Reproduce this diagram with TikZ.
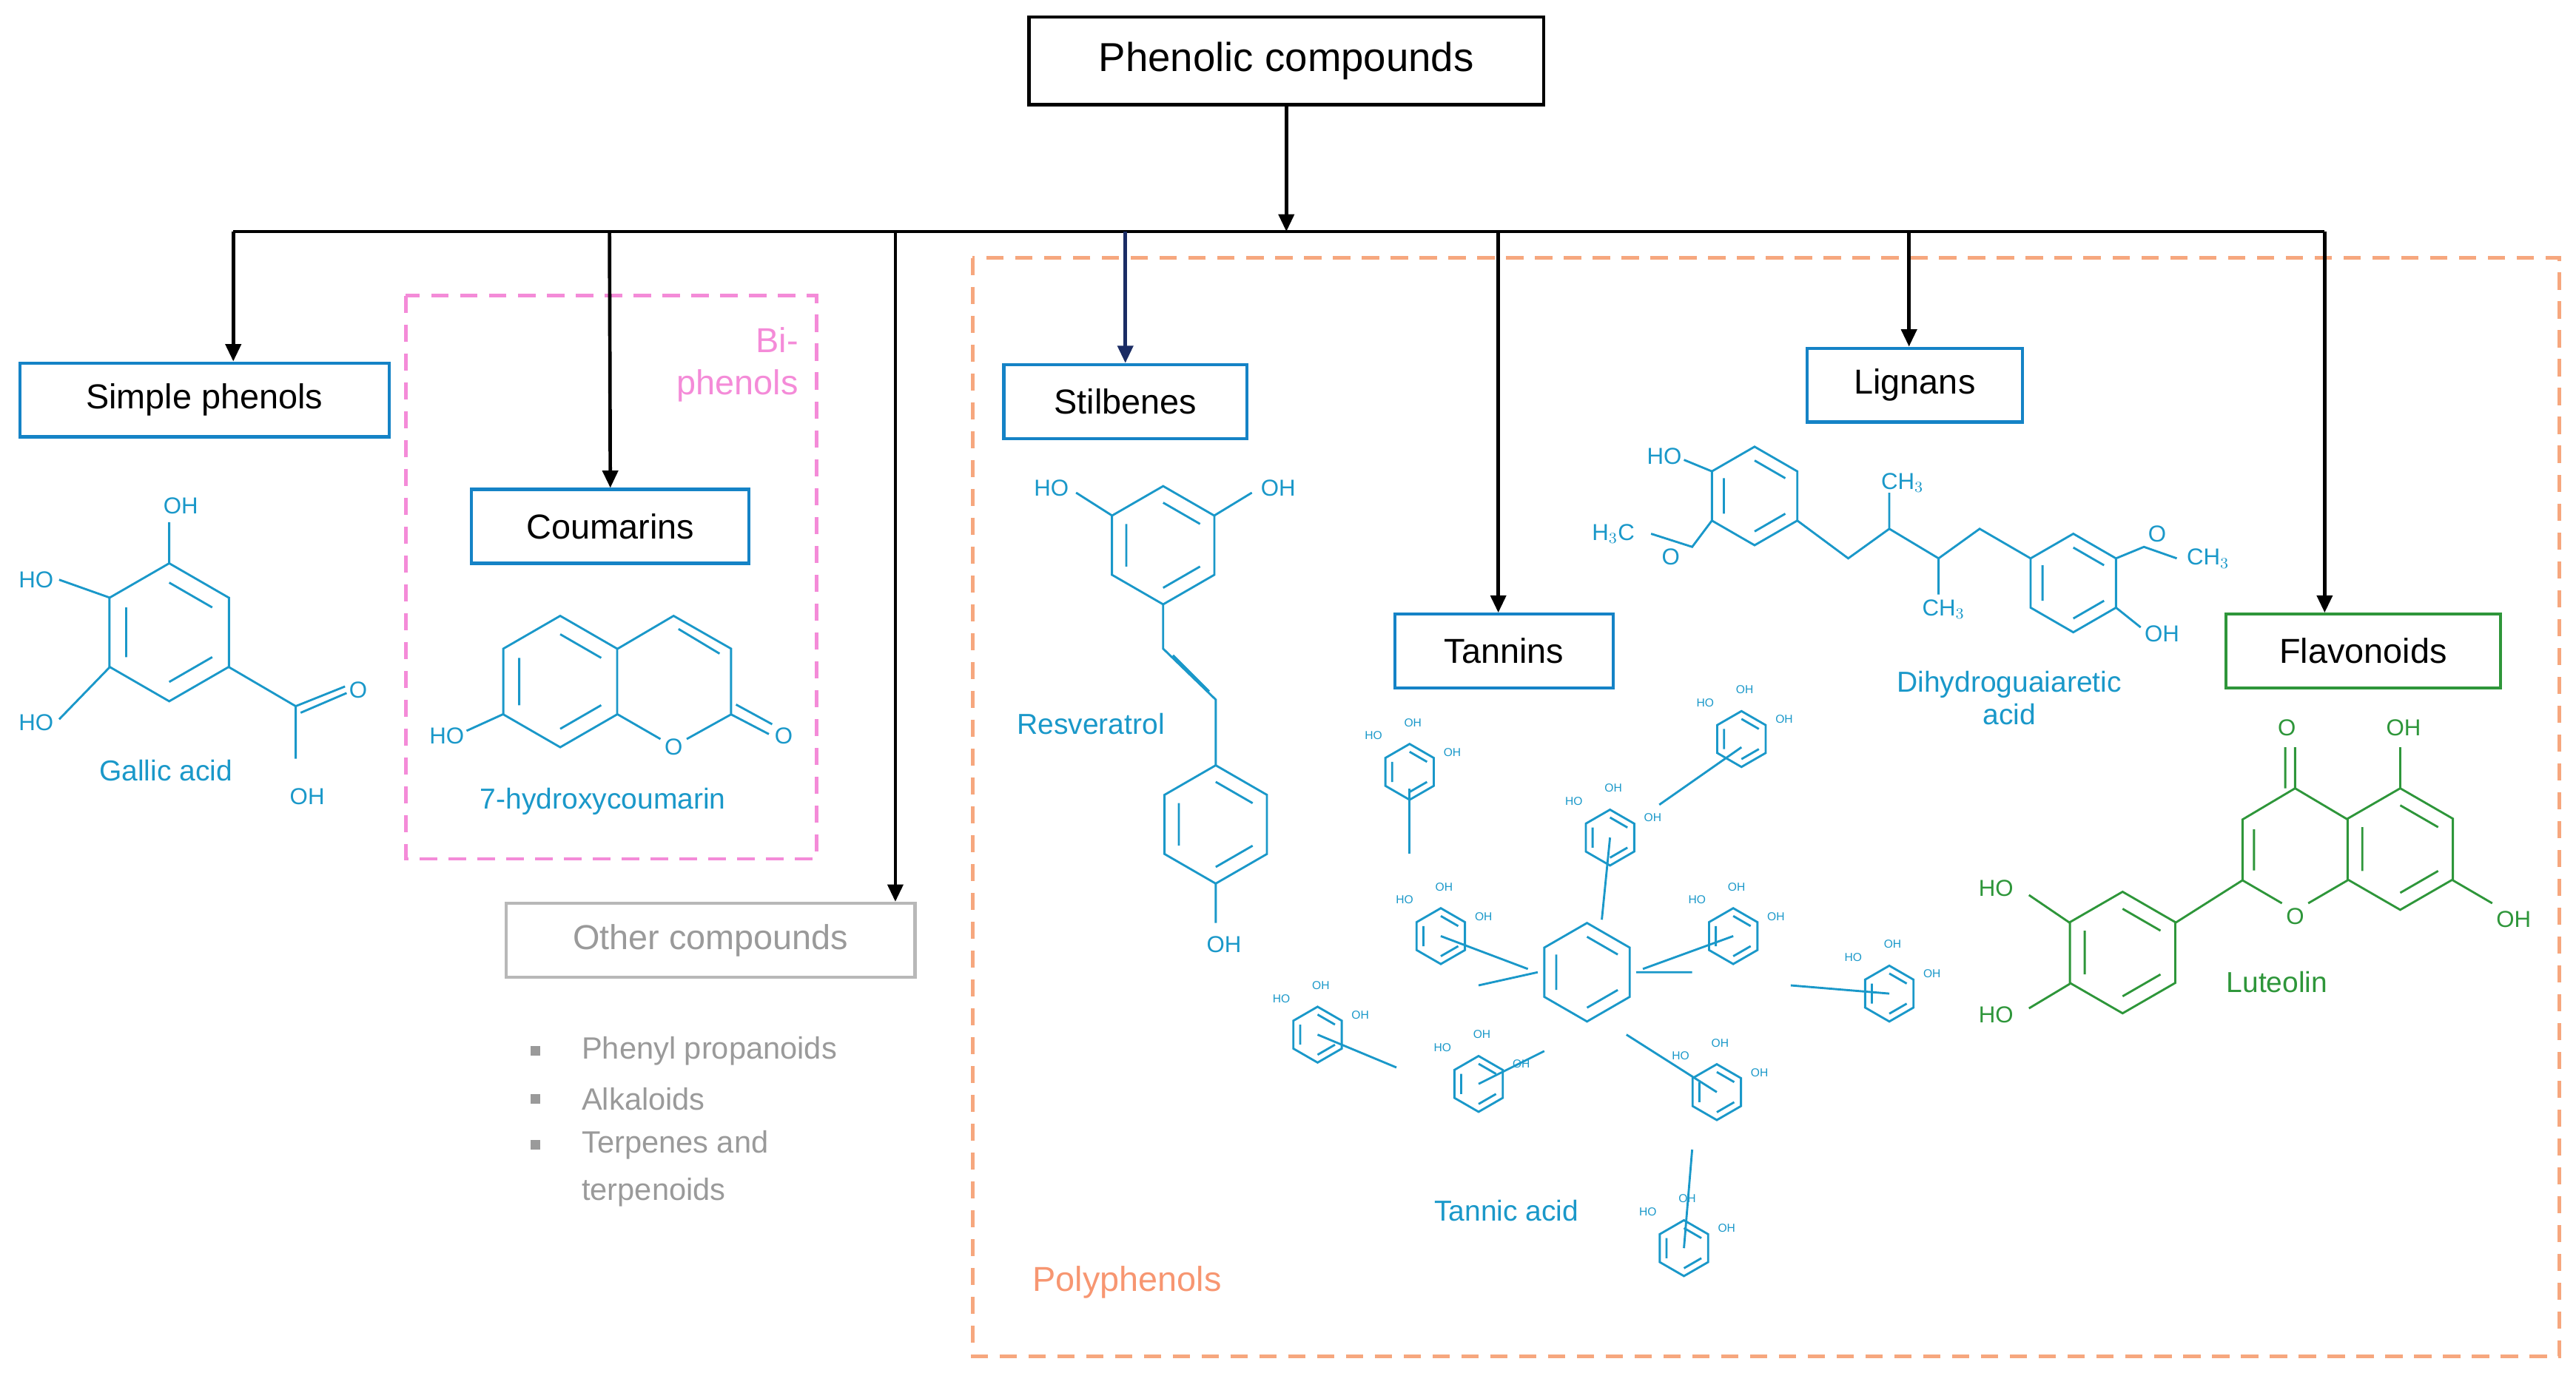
\documentclass[tikz,border=0pt]{standalone}
\usepackage{fontspec}
\setmainfont{Liberation Sans}
\definecolor{bx}{HTML}{1583C6}
\definecolor{mb}{HTML}{1A98C9}
\definecolor{gr}{HTML}{2E963A}
\definecolor{orr}{HTML}{F6A77E}
\definecolor{pk}{HTML}{F48BD8}
\definecolor{gy}{HTML}{9A9A9A}
\definecolor{nv}{HTML}{1B2C64}
\newcommand\hexa[4]{\begin{scope}[shift={(#1,#2)}]
\draw[#4,line width=1.1pt] (90:#3)--(30:#3)--(-30:#3)--(-90:#3)--(-150:#3)--(150:#3)--cycle;
\draw[#4,line width=1.1pt] (90:{0.72*#3})--(30:{0.72*#3}) (-30:{0.72*#3})--(-90:{0.72*#3}) (-150:{0.72*#3})--(150:{0.72*#3});
\end{scope}}
\newcommand\gall[2]{\hexa{#1}{#2}{17}{mb}
\node[tiny] at ($(#1,#2)+(-22,-22)$) {HO};
\node[tiny] at ($(#1,#2)+(2,-30)$) {OH};
\node[tiny] at ($(#1,#2)+(26,-12)$) {OH};}
\usetikzlibrary{calc,arrows.meta}
\begin{document}
\begin{tikzpicture}[x=0.3mm,y=-0.3mm,
box/.style={draw=bx,line width=1.6pt,minimum height=13.5mm,inner xsep=8pt,font=\fontsize{18}{20}\selectfont},
arr/.style={line width=1.8pt,-{Triangle[length=9pt,width=8pt]}},
ml/.style={text=mb,font=\fontsize{15}{17}\selectfont},
atm/.style={text=mb,font=\fontsize{12}{13}\selectfont,inner sep=0pt},
tiny/.style={text=mb,font=\fontsize{6}{7}\selectfont,inner sep=0pt},
bond/.style={mb,line width=1.1pt},
gbond/.style={gr,line width=1.1pt}]
\useasboundingbox (0,0) rectangle (1568,836);
% frames
\draw[orr,line width=1.8pt,dash pattern=on 9pt off 6pt] (592,157) rectangle (1558,826);
\draw[pk,line width=1.8pt,dash pattern=on 9pt off 6pt] (247,180) rectangle (497,523);
\node[text=pk,font=\fontsize{18}{22}\selectfont,align=right,anchor=north east] (bi) at (490,195) {Bi-\\phenols};
\node[text=orr!90!red,font=\fontsize{18}{20}\selectfont] (poly) at (686,781) {Polyphenols};
% boxes
\node[draw=black,line width=1.8pt,minimum width=94mm,minimum height=16mm,font=\fontsize{21}{24}\selectfont] (pc) at (783,37) {Phenolic compounds};
\node[box,minimum width=67.5mm] (sp) at (124.5,243.5) {Simple phenols};
\node[box,minimum width=50.7mm] (cou) at (371.5,320.5) {Coumarins};
\node[box,minimum width=44.4mm] (sti) at (685,244.5) {Stilbenes};
\node[box,minimum width=39.3mm] (lig) at (1165.5,234.5) {Lignans};
\node[box,minimum width=39.9mm] (tan) at (915.5,396.5) {Tannins};
\node[box,draw=gr,minimum width=50.1mm] (fla) at (1438.5,396.5) {Flavonoids};
\node[box,draw=gy!70,text=gy,minimum width=74.7mm] (oth) at (432.5,572.5) {Other compounds};
% connectors
\coordinate (j) at (783,141);
\draw[arr] (pc.south) -- (j);
\draw[line width=1.8pt] (142,141) -- (1415,141);
\draw[arr] (142,141) -- (sp.north -| 142,0);
\draw[arr] (371,141) -- (cou.north);
\draw[arr] (545,141) -- (oth.north -| 545,0);
\draw[arr,nv] (685,141) -- (sti.north);
\draw[arr] (912,141) -- (tan.north -| 912,0);
\draw[arr] (1162,141) -- (lig.north -| 1162,0);
\draw[arr] (1415,141) -- (fla.north -| 1415,0);
% other list
\foreach \t/\y in {Phenyl propanoids/640,Alkaloids/669,Terpenes and/697}{
\fill[gy] (323,\y-3) rectangle ++(6,6);
\node[text=gy,anchor=west,font=\fontsize{16}{18}\selectfont] at (350,\y) {\t};}
\node[text=gy,anchor=west,font=\fontsize{16}{18}\selectfont] (ot) at (350,726) {terpenoids};
% Gallic acid
\hexa{103}{385}{42}{mb}
\node[atm] (g1) at (110,308) {OH};
\node[atm] (g2) at (22,353) {HO};
\node[atm] (g3) at (22,440) {HO};
\draw[bond] (103,343)--(103,318) (67,364)--(36,353) (67,406)--(36,438) (139,406)--(180,430)--(180,462) (180,430)--(210,418) (183,434)--(211,422);
\node[atm] at (218,420) {O};
\node[atm] at (187,485) {OH};
\node[ml] (ga) at (101,469) {Gallic acid};
% coumarin
\hexa{341}{415}{40}{mb}
\draw[bond] (376,395)--(410,375)--(445,395)--(445,435)--(418,450) (402,450)--(376,435);
\draw[bond] (413,383)--(438,398) (445,435)--(468,447) (448,429)--(470,441);
\node[atm] at (272,448) {HO};
\draw[bond] (306,435)--(284,445);
\node[atm] at (410,455) {O};
\node[atm] at (477,448) {O};
\node[ml] (hc) at (367,488) {7-hydroxycoumarin};
% resveratrol
\hexa{708}{332}{36}{mb}
\hexa{740}{502}{36}{mb}
\draw[bond] (708,368)--(708,395)--(740,426)--(740,466) (714,399)--(736,421);
\draw[bond] (677,314)--(655,300) (739,314)--(762,300) (740,538)--(740,562);
\node[atm] at (640,297) {HO};
\node[atm] at (778,297) {OH};
\node[atm] at (745,575) {OH};
\node[ml] (res) at (664,441) {Resveratrol};
% lignan
\hexa{1068}{302}{30}{mb}
\hexa{1262}{355}{30}{mb}
\draw[bond] (1094,317)--(1125,340)--(1150,322)--(1180,340)--(1205,322)--(1236,340) (1150,322)--(1150,300) (1180,340)--(1180,362);
\draw[bond] (1042,287)--(1025,280) (1042,317)--(1030,333)--(1005,325) (1288,340)--(1305,333)--(1325,340) (1288,370)--(1303,382);
\node[atm] at (1013,278) {HO};
\node[atm] at (982,325) {H$_3$C};
\node[atm] at (1017,339) {O};
\node[atm] at (1313,325) {O};
\node[atm] at (1344,340) {CH$_3$};
\node[atm] at (1316,386) {OH};
\node[atm] at (1158,294) {CH$_3$};
\node[atm] at (1183,371) {CH$_3$};
\node[ml,align=center] (dg) at (1223,425) {Dihydroguaiaretic\\acid};
% luteolin
\hexa{1461}{517}{37}{gr}
\draw[gbond] (1429,499)--(1397,480)--(1365,499)--(1365,536)--(1389,550) (1405,550)--(1429,536) (1397,480)--(1397,455) (1391,480)--(1391,455) (1372,505)--(1372,530);
\hexa{1292}{580}{37}{gr}
\draw[gbond] (1365,536)--(1324,562) (1461,480)--(1461,455) (1493,536)--(1517,550) (1260,562)--(1235,545) (1260,599)--(1235,614);
\node[atm,text=gr] at (1392,443) {O};
\node[atm,text=gr] at (1463,443) {OH};
\node[atm,text=gr] at (1397,558) {O};
\node[atm,text=gr] at (1530,560) {OH};
\node[atm,text=gr] at (1215,541) {HO};
\node[atm,text=gr] at (1215,618) {HO};
\node[ml,text=gr] (lut) at (1386,598) {Luteolin};
% tannic acid
\hexa{966}{592}{30}{mb}
\foreach \a/\b/\c/\d in {858/480/858/520,1060/455/1010/490,980/510/975/560,877/570/930/590,1055/570/1000/590,1150/605/1090/600,802/630/850/650,900/660/940/640,1045/665/990/630,1025/760/1030/700}{
\draw[bond] (\c,\d)--(\a,\b);}
\draw[bond] (936,592)--(900,600) (996,592)--(1030,592);
\gall{858}{470}\gall{1060}{450}\gall{980}{510}\gall{877}{570}\gall{1055}{570}
\gall{1150}{605}\gall{802}{630}\gall{900}{660}\gall{1045}{665}\gall{1025}{760}
\node[ml] (ta) at (917,737) {Tannic acid};
\end{tikzpicture}
\end{document}
